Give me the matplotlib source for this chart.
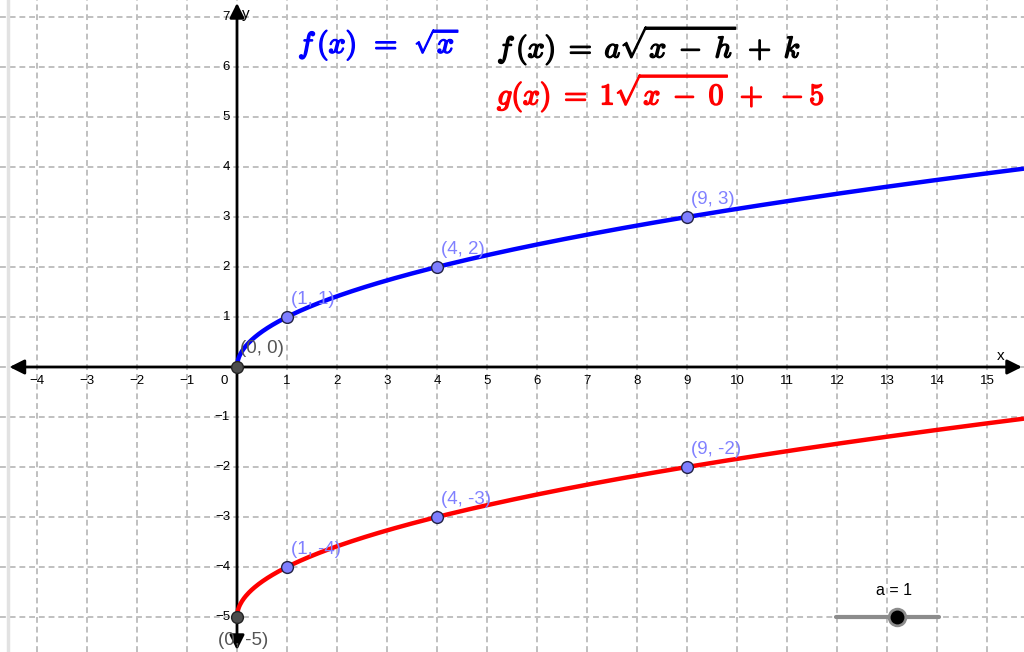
import numpy as np
import matplotlib
matplotlib.use("Agg")
import matplotlib.pyplot as plt
from matplotlib.lines import Line2D
import matplotlib.patheffects as pe

plt.rcParams['font.family'] = ['Liberation Sans', 'DejaVu Sans']
plt.rcParams['mathtext.fontset'] = 'cm'

# data
x_ticks = [-4, -3, -2, -1, 1, 2, 3, 4, 5, 6, 7, 8, 9, 10, 11, 12, 13, 14, 15]
y_ticks = [-5, -4, -3, -2, -1, 1, 2, 3, 4, 5, 6, 7]
a_val = 1
h_val = 0
k_val = -5
f_pts_x = [1, 4, 9]
f_pts_y = [1, 2, 3]
g_pts_x = [1, 4, 9]
g_pts_y = [-4, -3, -2]
f_labels = ["(1, 1)", "(4, 2)", "(9, 3)"]
g_labels = ["(1, -4)", "(4, -3)", "(9, -2)"]

fig = plt.figure(figsize=(10.24, 6.52), dpi=100)
ax = fig.add_axes([0, 0, 1, 1])
ax.set_xlim(-4.74, 15.74)
ax.set_ylim(-5.7, 7.34)
ax.axis('off')

grid_c = '#c0c0c0'
for gx in range(-4, 16):
    ax.axvline(gx, color=grid_c, lw=1.4, ls=(0, (3, 2)), zorder=0)
for gy in range(-5, 8):
    ax.axhline(gy, color=grid_c, lw=1.4, ls=(0, (3, 2)), zorder=0)

# left border of window
fig.add_artist(Line2D([0.0075, 0.0075], [0, 1], transform=fig.transFigure, color='#e2e2e2', lw=2.5))

# axes with arrows
ax.annotate('', xy=(15.7, 0), xytext=(-4.55, 0),
            arrowprops=dict(arrowstyle='<|-|>', color='black', lw=2, mutation_scale=22,
                            shrinkA=0, shrinkB=0), zorder=3)
ax.annotate('', xy=(0, 7.28), xytext=(0, -5.66),
            arrowprops=dict(arrowstyle='<|-|>', color='black', lw=2, mutation_scale=22,
                            shrinkA=0, shrinkB=0), zorder=3)

# tick labels
for t in x_ticks:
    lab = str(t).replace('-', '\u2212')
    ax.annotate(lab, (t, 0), xytext=(0, -10), textcoords='offset points',
                ha='center', va='center', fontsize=9.5, zorder=2)
for t in y_ticks:
    lab = str(t).replace('-', '\u2212')
    ax.annotate(lab, (0, t), xytext=(-5, 0), textcoords='offset points',
                ha='right', va='center', fontsize=9.5, zorder=2)
ax.annotate('0', (0, 0), xytext=(-9, -10), textcoords='offset points',
            ha='center', va='center', fontsize=9.5)
ax.annotate('x', (15.74, 0), xytext=(-17, 8), textcoords='offset points',
            ha='center', va='center', fontsize=11)
ax.annotate('y', (0, 7.34), xytext=(6, -10), textcoords='offset points',
            ha='center', va='center', fontsize=11)

# curves
xs = np.linspace(0, 15.74, 800)
ax.plot(xs, np.sqrt(xs), color='#0000ff', lw=3.2, zorder=4, solid_capstyle='butt')
ax.plot(xs, a_val * np.sqrt(xs - h_val) + k_val, color='#ff0000', lw=3.2, zorder=4,
        solid_capstyle='butt')

# points
pt_c = '#7f7fff'
lab_c = '#8080ff'
ax.plot(f_pts_x, f_pts_y, 'o', ms=8.5, mfc=pt_c, mec='#222244', mew=1, zorder=5)
ax.plot(g_pts_x, g_pts_y, 'o', ms=8.5, mfc=pt_c, mec='#222244', mew=1, zorder=5)
ax.plot([0, 0], [0, k_val], 'o', ms=8.5, mfc='#4d4d4d', mec='#222222', mew=1, zorder=5)
for px, py, s in zip(f_pts_x, f_pts_y, f_labels):
    ax.annotate(s, (px, py), xytext=(3, 12.5), textcoords='offset points',
                ha='left', va='center', fontsize=13.5, color=lab_c, zorder=6)
for px, py, s in zip(g_pts_x, g_pts_y, g_labels):
    ax.annotate(s, (px, py), xytext=(3, 12.5), textcoords='offset points',
                ha='left', va='center', fontsize=13.5, color=lab_c, zorder=6)
ax.annotate('(0, 0)', (0, 0), xytext=(2, 13), textcoords='offset points',
            ha='left', va='center', fontsize=13.5, color='#555555', zorder=6)
ax.annotate('(0, -5)', (0, k_val), xytext=(-14, -17), textcoords='offset points',
            ha='left', va='center', fontsize=13.5, color='#555555', zorder=6)

# formulas
def formula(x, y, s, c):
    ax.text(x, y, s, color=c, fontsize=21.5, ha='left', va='center',
            path_effects=[pe.withStroke(linewidth=1.1, foreground=c)], zorder=6)

formula(1.22, 6.45, r'$f\,(x)\;\,=\;\,\sqrt{x}$', '#0000ff')
formula(5.2, 6.42, r'$f\,(x)\;=\;a\sqrt{x\;-\;h}\;+\;k$', 'black')
formula(5.2, 5.5, r'$g(x)\;=\;1\sqrt{x\;-\;0}\;+\;-5$', '#ff0000')

# slider
ax.plot([11.98, 14.04], [-5, -5], color='#8c8c8c', lw=3, solid_capstyle='round', zorder=4)
ax.plot([13.2], [-5], 'o', ms=12, mfc='black', mec='#8c8c8c', mew=2, zorder=5)
ax.text(13.15, -4.47, 'a = %d' % a_val, fontsize=11.5, ha='center', va='center')

fig.savefig('out.png', dpi=100)
